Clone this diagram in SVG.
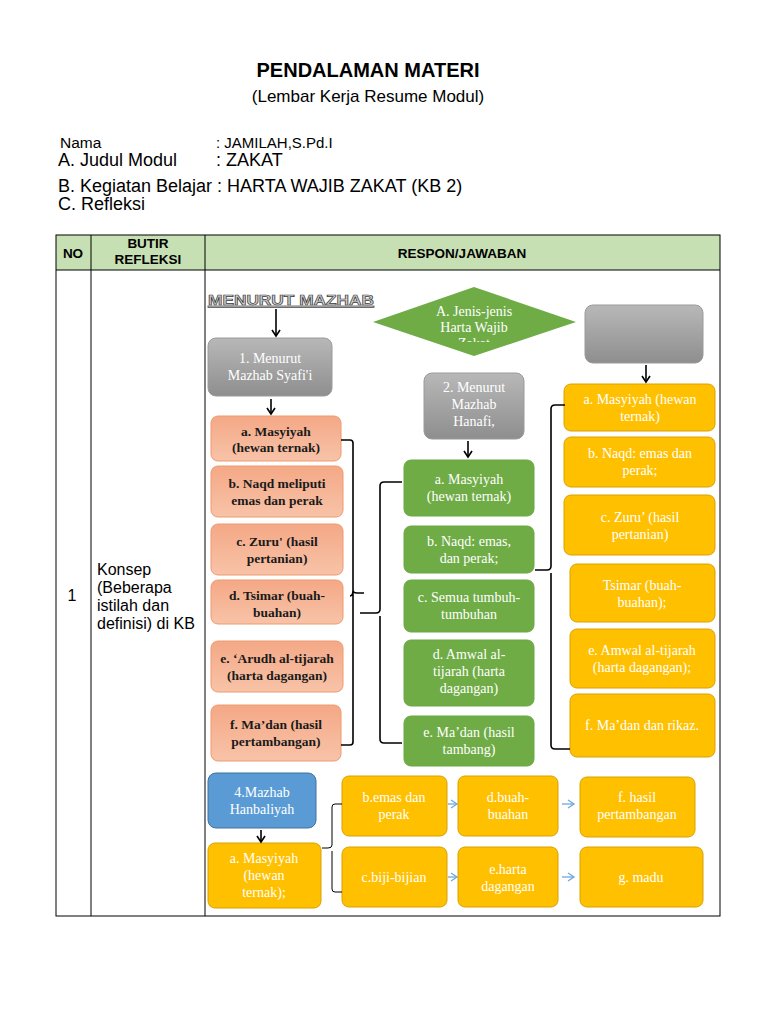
<svg xmlns="http://www.w3.org/2000/svg" width="768" height="1024" viewBox="0 0 768 1024">
<defs>
<linearGradient id="gGray" x1="0" y1="0" x2="0" y2="1"><stop offset="0" stop-color="#b8b8b8"/><stop offset="1" stop-color="#8e8e8e"/></linearGradient>
<linearGradient id="gSalmon" x1="0" y1="0" x2="0" y2="1"><stop offset="0" stop-color="#f4a886"/><stop offset="1" stop-color="#f8c3a8"/></linearGradient>
<marker id="ak" markerWidth="10" markerHeight="10" refX="7" refY="5" orient="auto" markerUnits="userSpaceOnUse"><path d="M1,1 L7,5 L1,9" fill="none" stroke="#000" stroke-width="1.6"/></marker>
<marker id="ab" markerWidth="10" markerHeight="10" refX="7" refY="5" orient="auto" markerUnits="userSpaceOnUse"><path d="M1,1 L7,5 L1,9" fill="none" stroke="#6fa8dc" stroke-width="1.3"/></marker>
<clipPath id="dclip"><rect x="370" y="280" width="210" height="62"/></clipPath>
</defs>
<style>
.hd{font-family:"Liberation Sans",Arial,sans-serif;fill:#000}
.th{font-family:"Liberation Sans",Arial,sans-serif;font-weight:bold;font-size:13.5px;fill:#000}
.td{font-family:"Liberation Sans",Arial,sans-serif;font-size:16px;fill:#000}
.bx{font-family:"Liberation Serif","DejaVu Serif",serif;font-size:14px;text-anchor:middle}
.w{fill:#fff}
.dk{fill:#1a1a1a;font-weight:bold;font-size:13.5px}
.gray{fill:url(#gGray);stroke:#9a9a9a;stroke-width:1}
.sal{fill:url(#gSalmon);stroke:#ee9a70;stroke-width:1}
.grn{fill:#6fac46;stroke:#6aa843;stroke-width:1}
.yel{fill:#ffc000;stroke:#d9a200;stroke-width:1}
.blu{fill:#5b9bd5;stroke:#41719c;stroke-width:1}
.ln{fill:none;stroke:#000;stroke-width:1.6}
.tb{fill:none;stroke:#000;stroke-width:1}
</style>

<g id="header">
<text class="hd" x="368" y="77" font-size="20" font-weight="bold" text-anchor="middle">PENDALAMAN MATERI</text>
<text class="hd" x="368" y="102" font-size="17" text-anchor="middle">(Lembar Kerja Resume Modul)</text>
<text class="hd" x="60" y="148" font-size="15.5">Nama</text>
<text class="hd" x="216" y="148" font-size="15">: JAMILAH,S.Pd.I</text>
<text class="hd" x="58" y="166" font-size="18">A. Judul Modul</text>
<text class="hd" x="216" y="166" font-size="18">: ZAKAT</text>
<text class="hd" x="58" y="192" font-size="18">B. Kegiatan Belajar : HARTA WAJIB ZAKAT (KB 2)</text>
<text class="hd" x="58" y="210" font-size="18">C. Refleksi</text>
</g>

<g id="table">
<rect x="56" y="235" width="664" height="35" fill="#c6e0b4"/>
<rect x="56" y="235" width="664" height="681" class="tb"/>
<line x1="56" y1="270" x2="720" y2="270" class="tb"/>
<line x1="91" y1="235" x2="91" y2="916" class="tb"/>
<line x1="205" y1="235" x2="205" y2="916" class="tb"/>
<text class="th" x="73" y="258" text-anchor="middle">NO</text>
<text class="th" x="148" y="248" text-anchor="middle">BUTIR</text>
<text class="th" x="148" y="264" text-anchor="middle">REFLEKSI</text>
<text class="th" x="462" y="258" text-anchor="middle">RESPON/JAWABAN</text>
<text class="td" x="72" y="601" text-anchor="middle">1</text>
<text class="td" x="97" y="575">Konsep</text>
<text class="td" x="97" y="593">(Beberapa</text>
<text class="td" x="97" y="611">istilah dan</text>
<text class="td" x="97" y="629">definisi) di KB</text>
</g>

<g id="menurut-mazhab">
<text x="208" y="305" font-family="Liberation Sans,Arial,sans-serif" font-weight="bold" font-size="15" fill="#d0d0d0" stroke="#3a3a3a" stroke-width="0.7" text-decoration="underline" textLength="166" lengthAdjust="spacingAndGlyphs">MENURUT MAZHAB</text>
</g>

<g id="diamond-jenis">
<polygon points="373,322 474,287 576,322 474,356" fill="#6fac46"/>
<g clip-path="url(#dclip)">
<text class="bx w" x="474" y="316">A. Jenis-jenis</text>
<text class="bx w" x="474" y="332">Harta Wajib</text>
<text class="bx w" x="474" y="348">Zakat</text>
</g>
</g>

<g id="syafii">
<rect x="208" y="338" width="124" height="58" rx="8" class="gray"/>
<text class="bx w" x="270" y="363">1. Menurut</text>
<text class="bx w" x="270" y="380">Mazhab Syafi'i</text>
</g>
<g id="s-a"><rect x="211" y="416" width="130" height="45" rx="7" class="sal"/><text class="bx dk" x="276" y="436">a. Masyiyah</text><text class="bx dk" x="276" y="452">(hewan ternak)</text></g>
<g id="s-b"><rect x="211" y="466" width="132" height="51" rx="7" class="sal"/><text class="bx dk" x="277" y="488">b. Naqd meliputi</text><text class="bx dk" x="277" y="505">emas dan perak</text></g>
<g id="s-c"><rect x="211" y="524" width="132" height="51" rx="7" class="sal"/><text class="bx dk" x="277" y="546">c. Zuru' (hasil</text><text class="bx dk" x="277" y="563">pertanian)</text></g>
<g id="s-d"><rect x="211" y="580" width="132" height="44" rx="7" class="sal"/><text class="bx dk" x="277" y="600">d. Tsimar (buah-</text><text class="bx dk" x="277" y="617">buahan)</text></g>
<g id="s-e"><rect x="211" y="641" width="132" height="51" rx="7" class="sal"/><text class="bx dk" x="277" y="663">e. ‘Arudh al-tijarah</text><text class="bx dk" x="277" y="680">(harta dagangan)</text></g>
<g id="s-f"><rect x="211" y="705" width="130" height="56" rx="7" class="sal"/><text class="bx dk" x="276" y="729">f. Ma’dan (hasil</text><text class="bx dk" x="276" y="746">pertambangan)</text></g>

<g id="hanafi">
<rect x="424" y="373" width="100" height="66" rx="8" class="gray"/>
<text class="bx w" x="474" y="392">2. Menurut</text>
<text class="bx w" x="474" y="409">Mazhab</text>
<text class="bx w" x="474" y="426">Hanafi,</text>
</g>
<g id="h-a"><rect x="404" y="460" width="130" height="56" rx="7" class="grn"/><text class="bx w" x="469" y="484">a. Masyiyah</text><text class="bx w" x="469" y="501">(hewan ternak)</text></g>
<g id="h-b"><rect x="404" y="526" width="130" height="47" rx="7" class="grn"/><text class="bx w" x="469" y="546">b. Naqd: emas,</text><text class="bx w" x="469" y="563">dan perak;</text></g>
<g id="h-c"><rect x="404" y="580" width="130" height="52" rx="7" class="grn"/><text class="bx w" x="469" y="602">c. Semua tumbuh-</text><text class="bx w" x="469" y="619">tumbuhan</text></g>
<g id="h-d"><rect x="404" y="640" width="130" height="66" rx="7" class="grn"/><text class="bx w" x="469" y="659">d. Amwal al-</text><text class="bx w" x="469" y="676">tijarah (harta</text><text class="bx w" x="469" y="693">dagangan)</text></g>
<g id="h-e"><rect x="404" y="716" width="130" height="50" rx="7" class="grn"/><text class="bx w" x="469" y="737">e. Ma’dan (hasil</text><text class="bx w" x="469" y="754">tambang)</text></g>

<g id="gray-empty"><rect x="585" y="305" width="118" height="58" rx="8" class="gray"/></g>
<g id="r-a"><rect x="564" y="384" width="151" height="47" rx="7" class="yel"/><text class="bx w" x="640" y="404">a. Masyiyah (hewan</text><text class="bx w" x="640" y="421">ternak)</text></g>
<g id="r-b"><rect x="564" y="437" width="151" height="50" rx="7" class="yel"/><text class="bx w" x="640" y="458">b. Naqd: emas dan</text><text class="bx w" x="640" y="475">perak;</text></g>
<g id="r-c"><rect x="564" y="495" width="151" height="60" rx="7" class="yel"/><text class="bx w" x="640" y="522">c. Zuru’ (hasil</text><text class="bx w" x="640" y="539">pertanian)</text></g>
<g id="r-d"><rect x="570" y="564" width="145" height="58" rx="7" class="yel"/><text class="bx w" x="642" y="590">Tsimar (buah-</text><text class="bx w" x="642" y="607">buahan);</text></g>
<g id="r-e"><rect x="570" y="629" width="145" height="59" rx="7" class="yel"/><text class="bx w" x="642" y="655">e. Amwal al-tijarah</text><text class="bx w" x="642" y="672">(harta dagangan);</text></g>
<g id="r-f"><rect x="570" y="694" width="145" height="63" rx="7" class="yel"/><text class="bx w" x="642" y="730">f. Ma’dan dan rikaz.</text></g>

<g id="hanbali"><rect x="208" y="773" width="108" height="55" rx="8" class="blu"/><text class="bx w" x="262" y="797">4.Mazhab</text><text class="bx w" x="262" y="814">Hanbaliyah</text></g>
<g id="b-a"><rect x="208" y="843" width="113" height="65" rx="7" class="yel"/><text class="bx w" x="264" y="863">a. Masyiyah</text><text class="bx w" x="264" y="880">(hewan</text><text class="bx w" x="264" y="897">ternak);</text></g>
<g id="b-b"><rect x="342" y="776" width="105" height="60" rx="7" class="yel"/><text class="bx w" x="394" y="802">b.emas dan</text><text class="bx w" x="394" y="819">perak</text></g>
<g id="b-c"><rect x="342" y="847" width="105" height="60" rx="7" class="yel"/><text class="bx w" x="394" y="882">c.biji-bijian</text></g>
<g id="b-d"><rect x="458" y="776" width="100" height="60" rx="7" class="yel"/><text class="bx w" x="508" y="802">d.buah-</text><text class="bx w" x="508" y="819">buahan</text></g>
<g id="b-e"><rect x="458" y="847" width="100" height="60" rx="7" class="yel"/><text class="bx w" x="508" y="874">e.harta</text><text class="bx w" x="508" y="891">dagangan</text></g>
<g id="b-f"><rect x="580" y="777" width="115" height="60" rx="7" class="yel"/><text class="bx w" x="637" y="802">f. hasil</text><text class="bx w" x="637" y="819">pertambangan</text></g>
<g id="b-g"><rect x="580" y="847" width="123" height="60" rx="7" class="yel"/><text class="bx w" x="641" y="882">g. madu</text></g>

<g id="connectors">
<line x1="276" y1="309" x2="276" y2="336" class="ln" marker-end="url(#ak)"/>
<line x1="271" y1="399" x2="271" y2="414" class="ln" marker-end="url(#ak)"/>
<line x1="468" y1="441" x2="468" y2="457" class="ln" marker-end="url(#ak)"/>
<line x1="646" y1="365" x2="646" y2="382" class="ln" marker-end="url(#ak)"/>
<line x1="261" y1="830" x2="261" y2="842" class="ln" marker-end="url(#ak)"/>
<path d="M341,440 H350 Q353,440 353,443 V590 Q353,593 357,593 H364 M353,590 Q353,596 350,596 M353,593 V742 Q353,745 350,745 H341" class="ln"/>
<path d="M402,482 H384 Q380,482 380,486 V609 Q380,613 376,613 H360 M380,616 V739 Q380,743 384,743 H402" class="ln"/>
<path d="M565,405 H555 Q551,405 551,409 V566 Q551,570 547,570 H535 M551,573 V745 Q551,749 555,749 H570" class="ln"/>
<path d="M342,804 H335 Q332,804 332,807 V845 Q332,848 328,848 H322 M332,851 V889 Q332,892 335,892 H342" fill="none" stroke="#000" stroke-width="1"/>
<line x1="448" y1="804" x2="457" y2="804" stroke="#6fa8dc" stroke-width="1.3" marker-end="url(#ab)"/>
<line x1="562" y1="804" x2="574" y2="804" stroke="#6fa8dc" stroke-width="1.3" marker-end="url(#ab)"/>
<line x1="448" y1="877" x2="457" y2="877" stroke="#6fa8dc" stroke-width="1.3" marker-end="url(#ab)"/>
<line x1="562" y1="877" x2="574" y2="877" stroke="#6fa8dc" stroke-width="1.3" marker-end="url(#ab)"/>
</g>
</svg>
